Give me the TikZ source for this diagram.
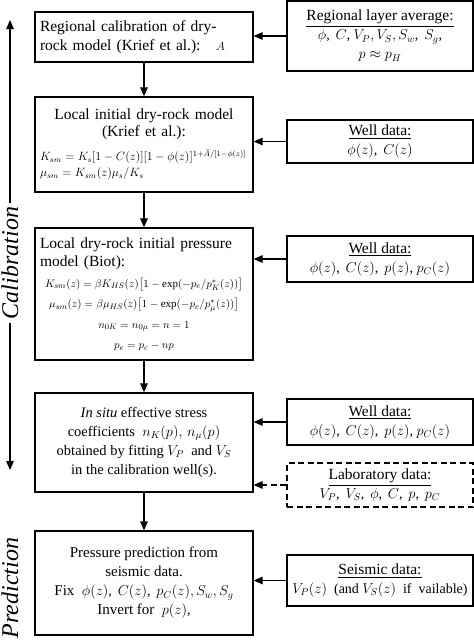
\documentclass[tikz,border=0pt]{standalone}
\usepackage{fontspec}
\setmainfont{Liberation Serif}
\usepackage{amsmath}
\usetikzlibrary{arrows.meta, positioning}
\tikzset{
  leftbox/.style={rectangle, draw, line width=1.3pt, minimum width=218pt,
    text width=208pt, inner xsep=5pt, inner ysep=3pt,
    font=\fontsize{15.5}{18.5}\selectfont},
  databox/.style={rectangle, draw, line width=1.3pt, minimum width=186pt,
    text width=182pt, align=flush center, inner sep=2pt,
    font=\fontsize{15.5}{19}\selectfont},
  labbox/.style={databox, dash pattern=on 6pt off 3.5pt},
  arrow/.style={-{Triangle[length=9pt,width=7.5pt]}, line width=1.3pt},
  sidetext/.style={rotate=90, inner sep=4pt, fill=white,
    font=\fontsize{24}{24}\selectfont\itshape}
}
\newcommand{\eqs}[1]{{\fontsize{11.5}{21}\selectfont #1}}
\newcommand{\inl}[1]{{\fontsize{14}{19}\selectfont #1}}

\begin{document}
\begin{tikzpicture}[x=1pt, y=-1pt]
  \useasboundingbox (0,0) rectangle (474,641);

  % Calibration / prediction
  \coordinate (caltop) at (10,20);
  \coordinate (calbot) at (10,470);
  \node[sidetext] (cal) at (10,263) {Calibration};
  \node[sidetext] (pred) at (10,588) {Prediction};
  \draw[arrow] (cal) -- (caltop);
  \draw[arrow] (cal) -- (calbot);

  % Regional calibration
  \node[leftbox, align=left, minimum height=50pt] (regcal) at (144,37)
    {Regional calibration of dry-\\rock model (Krief et al.):\quad\eqs{$A$}};

  % Local initial dry-rock model
  \node[leftbox, align=left, minimum height=95pt,
        font=\fontsize{15.5}{16.5}\selectfont] (krief) at (144,144.5)
    {{\centering Local initial dry-rock model\\(Krief et al.):\par}
     \vspace{3pt}
     \eqs{$K_{sm}=K_s[1-C(z)][1-\phi(z)]^{1+\bar{A}/[1-\phi(z)]}$\\
     $\mu_{sm}=K_{sm}(z)\mu_s/K_s$}};

  % Local initial pressure model
  \node[leftbox, align=left, minimum height=132pt] (biot) at (144,294)
    {Local dry-rock initial pressure\\model (Biot):\par
     {\centering\fontsize{11}{20.5}\selectfont
     $K_{sm}(z)=\beta K_{HS}(z)\bigl[1-\exp(-p_e/p_K^{*}(z))\bigr]$\\
     $\mu_{sm}(z)=\beta\mu_{HS}(z)\bigl[1-\exp(-p_e/p_\mu^{*}(z))\bigr]$\\
     $n_{0K}=n_{0\mu}=n=1$\\
     $p_e=p_c-np$\par}};

  % Effective stress coefficients
  \node[leftbox, align=flush center, minimum height=99pt,
        font=\fontsize{14.5}{19}\selectfont] (insitu) at (144,442.5)
    {\textit{In situ} effective stress\\
     coefficients \ \inl{$n_K(p),\, n_\mu(p)$}\\
     obtained by fitting \inl{$V_P$} \ and \inl{$V_S$}\\
     in the calibration well(s).};

  % Pressure prediction
  \node[leftbox, align=flush center, minimum height=104pt,
        font=\fontsize{15}{19}\selectfont] (pressure) at (144,583)
    {Pressure prediction from\\seismic data.\\
     Fix \ \inl{$\phi(z)$,\, $C(z)$,\, $p_C(z), S_w, S_g$}\\
     Invert for \ \inl{$p(z)$,}\par\vspace*{16pt}};

  % Data boxes
  \node[databox, minimum height=70pt] (regavg) at (380,36)
    {\underline{Regional layer average:}\\
     \inl{$\phi$,\, $C$, $V_P, V_S, S_w$,\, $S_g$,}\\ \inl{$p\approx p_H$}};
  \node[databox, minimum height=43pt] (well1) at (380,141.5)
    {\underline{Well data:}\\ \inl{$\phi(z)$,\, $C(z)$}};
  \node[databox, minimum height=46pt] (well2) at (380,259)
    {\underline{Well data:}\\ \inl{$\phi(z)$,\, $C(z)$,\, $p(z)$, $p_C(z)$}};
  \node[databox, minimum height=46pt] (well3) at (380,422)
    {\underline{Well data:}\\ \inl{$\phi(z)$,\, $C(z)$,\, $p(z)$, $p_C(z)$}};
  \node[labbox, minimum height=44pt] (lab) at (380,485)
    {\underline{Laboratory data:}\\
     \inl{$V_P$,\, $V_S$,\, $\phi$,\, $C$,\, $p$,\, $p_C$}};
  \node[databox, minimum height=51pt] (seis) at (380,580.5)
    {\underline{Seismic data:}\\
     \inl{$V_P(z)$\ \ (and $V_S(z)$\ \ if\ \ vailable)}};

  % Main chain
  \draw[arrow] (regcal) -- (krief);
  \draw[arrow] (krief) -- (biot);
  \draw[arrow] (biot) -- (insitu);
  \draw[arrow] (insitu) -- (pressure);

  % Data inputs
  \draw[arrow] (regavg.west) -- (regavg.west -| regcal.east);
  \draw[arrow] (well1.west) -- (well1.west -| krief.east);
  \draw[arrow] (well2.west) -- (well2.west -| biot.east);
  \draw[arrow] (well3.west) -- (well3.west -| insitu.east);
  \draw[arrow, dash pattern=on 6pt off 3.5pt] (lab.west) -- (lab.west -| insitu.east);
  \draw[arrow] (seis.west) -- (seis.west -| pressure.east);
\end{tikzpicture}
\end{document}
